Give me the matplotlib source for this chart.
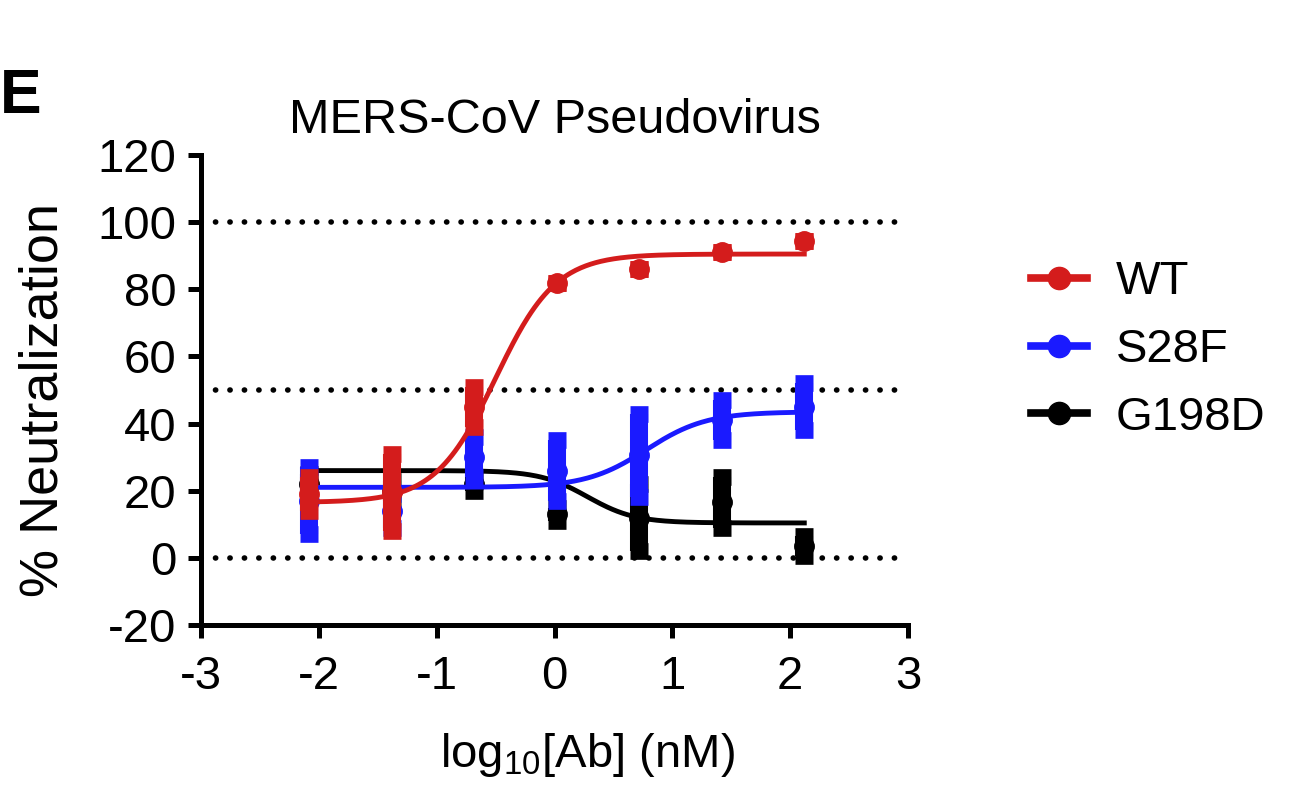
import numpy as np
import matplotlib
matplotlib.use("Agg")
import matplotlib.pyplot as plt

plt.rcParams['font.family'] = ['Liberation Sans', 'DejaVu Sans']
plt.rcParams['mathtext.fontset'] = 'custom'
plt.rcParams['mathtext.rm'] = 'Liberation Sans'
plt.rcParams['mathtext.default'] = 'regular'
plt.rcParams['axes.unicode_minus'] = False

# data (log10 of antibody concentration, nM)
x_log = [-2.08, -1.38, -0.68, 0.02, 0.72, 1.42, 2.12]

wt_mean = [19, 19.5, 45, 82, 86, 91, 94.5]
wt_err = [5, 11.5, 6, 0, 0, 0, 0]
s28f_mean = [17, 14, 30, 26, 30.5, 41, 45]
s28f_err = [10, 5, 6, 9, 12.5, 6, 7]
g198d_mean = [22, 20, 22, 13, 12, 16.5, 3.5]
g198d_err = [3, 3, 2, 2, 10, 7.5, 3]

# fitted 4-parameter logistic curves: bottom, top, logEC50, hill
wt_fit = [16.5, 90.5, -0.5, 1.7]
s28f_fit = [21, 43.5, 0.78, 1.7]
g198d_fit = [26, 10.4, 0.28, 2.15]

labels = ["WT", "S28F", "G198D"]
colors = ["#d41c1c", "#1a1aff", "#000000"]


def four_pl(x, p):
    bottom, top, logec, hill = p
    return bottom + (top - bottom) / (1 + 10 ** ((logec - x) * hill))


fig = plt.figure(figsize=(13.11, 7.89), dpi=100)
ax = fig.add_axes([201 / 1311, 1 - 625 / 789, 707 / 1311, 470 / 789])

# reference lines
for yv in [0, 50, 100]:
    ax.plot([-3, 3], [yv, yv], color="black", lw=4,
            linestyle=(0, (0.05, 2.55)), dash_capstyle="round", zorder=1)

xs = np.linspace(min(x_log), max(x_log), 300)
series = [
    (g198d_mean, g198d_err, g198d_fit),
    (s28f_mean, s28f_err, s28f_fit),
    (wt_mean, wt_err, wt_fit),
]
order = [2, 1, 0]
handles = {}
for z, ((m, e, p), idx) in enumerate(zip(series, order)):
    c = colors[idx]
    ax.errorbar(x_log, m, yerr=e, fmt="none", ecolor=c, elinewidth=13,
                capsize=6.5, capthick=12, zorder=3 + z)
    ax.plot(x_log, m, "o", color=c, ms=14, zorder=3 + z)
    ax.plot(xs, four_pl(xs, p), color=c, lw=3.5, zorder=3 + z)
    h, = ax.plot([], [], color=c, lw=5.5, marker="o", ms=16)
    handles[idx] = h

ax.set_xlim(-3, 3)
ax.set_ylim(-20, 120)
ax.set_xticks(range(-3, 4))
ax.set_yticks(range(-20, 121, 20))
ax.spines['top'].set_visible(False)
ax.spines['right'].set_visible(False)
for s in ['left', 'bottom']:
    ax.spines[s].set_linewidth(3.6)
ax.tick_params(direction="out", length=9.5, width=3.6, labelsize=34, pad=8)
ax.tick_params(axis="x", pad=12)

ax.set_title("MERS-CoV Pseudovirus", fontsize=35, pad=16)
ax.set_xlabel("log$_{10}$[Ab] (nM)", fontsize=34)
ax.xaxis.set_label_coords(0.546, -0.225)
ax.set_ylabel("% Neutralization", fontsize=39)
ax.yaxis.set_label_coords(-0.187, 0.479)

fig.text(0.0, 1 - 113 / 789, "E", fontsize=45, fontweight="bold", ha="left", va="baseline")

fig.legend([handles[i] for i in range(3)], labels, loc="upper left",
           bbox_to_anchor=(988 / 1311, 1 - 218 / 789), frameon=False,
           fontsize=34, handlelength=1.2, handletextpad=0.6, labelspacing=0.5)

fig.savefig("out.png", dpi=100)
